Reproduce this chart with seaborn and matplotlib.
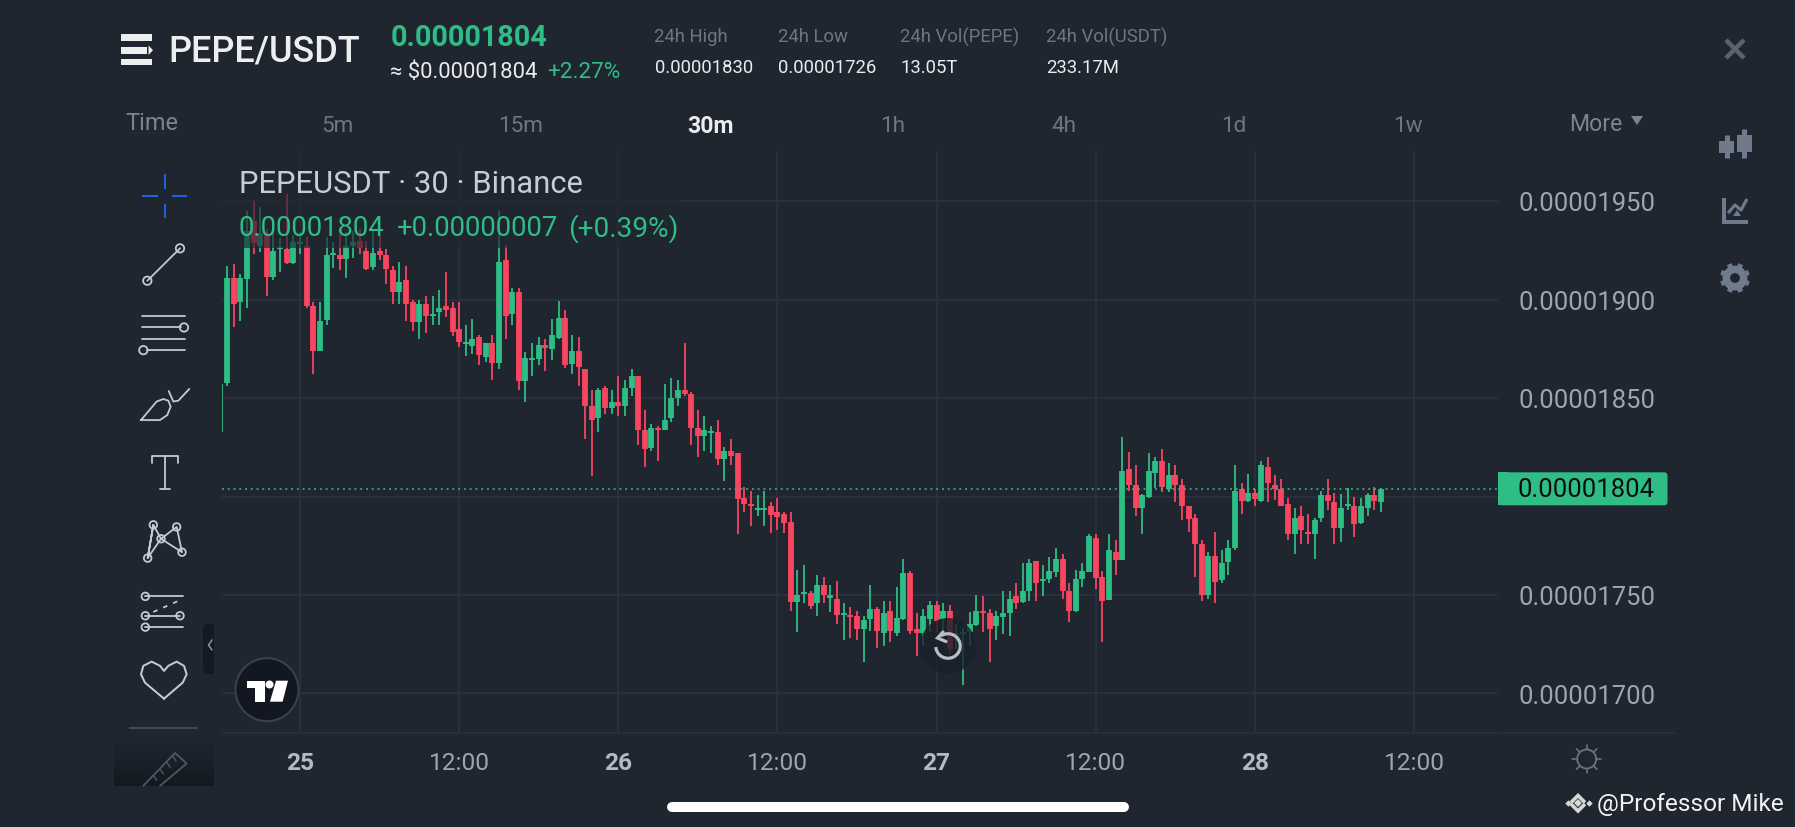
import numpy as np
import pandas as pd
import matplotlib
matplotlib.use("Agg")
import matplotlib.pyplot as plt
from matplotlib.colors import LinearSegmentedColormap
from matplotlib.patches import Arc, Circle, FancyBboxPatch, Polygon, Rectangle
import seaborn as sns

# prices in units of 0.00000001, one candle per 30 minutes
# first candle is 12 bars before the "25" tick
opens = [1832.6, 1857.6, 1910.7, 1898.7, 1910.4, 1940.0, 1927.3, 1932.7, 1911.4, 1925.6, 1925.6, 1918.5,
         1928.7, 1927.3, 1896.5, 1873.9, 1889.6, 1922.8, 1922.6, 1920.6, 1927.3, 1929.9, 1924.8, 1916.5,
         1924.8, 1922.6, 1915.1, 1903.6, 1909.7, 1898.9, 1888.8, 1897.7, 1891.8, 1893.7, 1896.7, 1895.7,
         1884.9, 1877.6, 1876.6, 1880.8, 1870.8, 1877.8, 1867.6, 1919.9, 1892.7, 1904.0, 1858.8, 1869.8,
         1869.8, 1876.9, 1874.9, 1880.5, 1890.8, 1867.4, 1873.9, 1864.7, 1845.8, 1840.0, 1855.1, 1844.8,
         1847.8, 1845.8, 1855.1, 1861.0, 1833.9, 1824.8, 1834.8, 1833.9, 1840.0, 1849.8, 1854.1, 1851.9,
         1834.8, 1830.9, 1832.6, 1832.9, 1818.9, 1822.9, 1821.9, 1799.1, 1796.0, 1793.7, 1793.7, 1795.2,
         1792.0, 1790.9, 1786.9, 1746.6, 1751.0, 1751.0, 1745.8, 1755.1, 1749.0, 1748.0, 1740.0, 1740.0,
         1739.2, 1732.8, 1737.8, 1742.9, 1730.9, 1741.9, 1730.7, 1737.8, 1761.0, 1732.8, 1730.9, 1737.8,
         1744.9, 1737.8, 1742.1, 1729.7, 1730.1, 1731.1, 1734.8, 1741.9, 1741.1, 1734.1, 1739.0, 1741.1,
         1749.3, 1746.6, 1752.0, 1767.1, 1757.1, 1758.0, 1761.9, 1768.3, 1752.0, 1742.1, 1758.0, 1761.9,
         1779.1, 1759.0, 1747.6, 1772.0, 1767.9, 1813.9, 1805.8, 1794.0, 1799.5, 1811.9, 1818.0, 1803.6,
         1811.0, 1805.8, 1795.0, 1788.9, 1775.8, 1750.0, 1769.9, 1757.6, 1766.9, 1773.7, 1803.8, 1797.7,
         1801.7, 1797.7, 1814.9, 1805.8, 1803.8, 1796.2, 1780.9, 1789.9, 1781.8, 1780.9, 1788.9, 1800.9,
         1797.0, 1784.0, 1795.0, 1795.0, 1786.8, 1794.0, 1800.9, 1797.0]
highs = [1857.1, 1917.2, 1918.0, 1912.8, 1944.9, 1949.8, 1946.8, 1935.8, 1934.9, 1931.1, 1953.6, 1932.7,
         1934.1, 1931.9, 1898.9, 1898.9, 1931.9, 1929.0, 1932.7, 1934.1, 1934.6, 1935.8, 1929.9, 1934.9,
         1932.7, 1925.6, 1916.8, 1918.9, 1916.8, 1899.9, 1899.9, 1902.0, 1902.0, 1904.8, 1913.8, 1898.9,
         1898.9, 1887.1, 1889.9, 1881.8, 1877.8, 1881.8, 1944.9, 1927.5, 1905.9, 1905.9, 1873.2, 1877.9,
         1880.8, 1879.9, 1890.1, 1899.1, 1894.9, 1881.8, 1880.8, 1864.7, 1854.1, 1855.1, 1856.1, 1854.1,
         1861.0, 1859.1, 1864.7, 1861.0, 1843.9, 1836.8, 1835.8, 1857.1, 1860.0, 1859.1, 1877.9, 1852.9,
         1843.9, 1841.0, 1835.8, 1839.0, 1825.0, 1829.0, 1821.9, 1805.0, 1803.0, 1800.9, 1803.0, 1797.2,
         1799.1, 1792.0, 1792.0, 1762.9, 1765.2, 1752.0, 1760.0, 1759.0, 1755.1, 1757.1, 1746.0, 1743.9,
         1742.1, 1739.2, 1755.1, 1743.9, 1747.0, 1747.0, 1754.1, 1768.3, 1762.0, 1741.1, 1743.1, 1747.0,
         1747.0, 1746.0, 1744.9, 1735.3, 1733.1, 1741.2, 1750.2, 1749.3, 1742.9, 1742.1, 1752.2, 1752.2,
         1756.1, 1766.3, 1768.1, 1767.1, 1765.2, 1769.1, 1774.0, 1771.0, 1756.1, 1762.9, 1766.3, 1781.2,
         1781.2, 1762.0, 1781.1, 1777.9, 1830.0, 1822.7, 1816.0, 1801.1, 1821.9, 1819.8, 1824.1, 1816.8,
         1816.0, 1809.0, 1795.0, 1790.9, 1777.9, 1772.0, 1782.1, 1773.0, 1777.9, 1816.0, 1806.8, 1811.2,
         1803.8, 1818.0, 1819.8, 1811.0, 1809.0, 1799.0, 1794.1, 1795.0, 1790.9, 1788.9, 1802.8, 1809.0,
         1801.7, 1801.1, 1804.1, 1799.9, 1799.0, 1801.9, 1804.8, 1804.1]
lows = [1832.6, 1856.3, 1886.2, 1889.1, 1895.9, 1922.9, 1923.9, 1902.0, 1910.1, 1914.1, 1918.0, 1918.0,
        1922.9, 1895.9, 1862.0, 1873.7, 1887.2, 1916.0, 1915.1, 1910.9, 1920.9, 1922.9, 1915.1, 1915.1,
        1920.1, 1907.9, 1897.7, 1897.7, 1889.1, 1884.2, 1880.0, 1882.8, 1887.1, 1887.1, 1891.0, 1881.6,
        1876.1, 1871.2, 1872.2, 1866.9, 1868.1, 1859.1, 1864.9, 1880.0, 1887.1, 1854.1, 1848.1, 1861.0,
        1866.8, 1863.9, 1869.3, 1880.0, 1865.0, 1862.0, 1856.3, 1829.2, 1810.2, 1832.9, 1842.0, 1842.0,
        1841.0, 1841.0, 1850.8, 1826.1, 1815.1, 1822.9, 1818.0, 1833.9, 1838.0, 1846.1, 1850.8, 1826.1,
        1820.1, 1822.9, 1821.9, 1816.2, 1808.0, 1816.2, 1781.1, 1792.0, 1785.2, 1790.1, 1785.2, 1781.3,
        1783.2, 1781.3, 1742.1, 1731.1, 1746.0, 1742.9, 1739.2, 1746.0, 1741.2, 1735.3, 1727.2, 1728.0,
        1727.0, 1716.2, 1731.9, 1723.3, 1724.3, 1726.2, 1729.2, 1737.5, 1730.1, 1719.2, 1724.3, 1731.1,
        1731.1, 1729.4, 1720.1, 1722.6, 1704.3, 1724.3, 1734.5, 1731.1, 1716.2, 1727.2, 1730.2, 1729.2,
        1743.1, 1746.0, 1747.0, 1747.0, 1749.3, 1756.1, 1759.0, 1748.0, 1736.1, 1741.2, 1754.1, 1761.5,
        1753.1, 1726.2, 1747.6, 1760.1, 1767.9, 1802.9, 1790.2, 1781.1, 1799.4, 1804.1, 1802.1, 1802.1,
        1797.3, 1788.2, 1782.1, 1759.1, 1747.1, 1747.9, 1746.1, 1756.2, 1760.1, 1773.0, 1790.9, 1797.3,
        1795.3, 1797.0, 1797.3, 1798.0, 1795.0, 1777.9, 1770.9, 1776.0, 1776.0, 1768.1, 1787.2, 1792.9,
        1776.0, 1776.9, 1792.9, 1779.2, 1786.2, 1790.1, 1792.9, 1791.9]
closes = [1857.1, 1910.7, 1897.6, 1910.7, 1934.9, 1928.7, 1933.8, 1911.6, 1924.8, 1926.5, 1918.5, 1929.0,
          1929.0, 1896.5, 1873.9, 1888.9, 1922.8, 1923.6, 1920.6, 1927.3, 1929.0, 1926.0, 1915.5, 1923.8,
          1922.6, 1915.7, 1903.6, 1908.7, 1897.6, 1888.8, 1897.7, 1891.8, 1892.6, 1895.7, 1894.7, 1883.7,
          1878.6, 1878.1, 1879.8, 1871.8, 1877.8, 1867.6, 1918.9, 1891.8, 1904.0, 1858.8, 1870.1, 1870.1,
          1876.9, 1875.5, 1881.8, 1890.8, 1866.8, 1873.9, 1865.6, 1845.8, 1839.0, 1854.1, 1844.8, 1847.8,
          1845.8, 1855.1, 1861.0, 1833.9, 1824.1, 1834.8, 1833.9, 1839.0, 1850.0, 1854.1, 1851.9, 1834.8,
          1830.9, 1833.8, 1832.9, 1818.9, 1822.9, 1820.7, 1798.7, 1796.0, 1795.0, 1794.0, 1794.0, 1790.8,
          1789.8, 1786.7, 1746.6, 1750.0, 1751.4, 1744.6, 1755.1, 1750.2, 1749.5, 1740.0, 1741.1, 1739.0,
          1732.8, 1737.2, 1742.9, 1731.7, 1741.1, 1731.7, 1738.2, 1761.0, 1731.7, 1730.9, 1739.2, 1744.9,
          1737.0, 1742.1, 1722.6, 1730.7, 1731.1, 1735.1, 1742.1, 1740.9, 1732.8, 1739.2, 1741.1, 1748.0,
          1745.8, 1752.2, 1766.3, 1755.9, 1758.0, 1762.0, 1768.3, 1752.2, 1742.1, 1758.0, 1762.0, 1780.1,
          1758.8, 1746.8, 1773.0, 1767.9, 1812.9, 1805.8, 1794.0, 1800.9, 1812.9, 1818.0, 1804.6, 1811.0,
          1805.8, 1795.0, 1788.5, 1775.7, 1750.0, 1769.9, 1756.7, 1766.0, 1773.8, 1802.9, 1797.7, 1801.7,
          1798.7, 1816.0, 1806.8, 1803.8, 1795.0, 1780.9, 1788.9, 1783.0, 1781.1, 1787.9, 1800.9, 1797.8,
          1784.0, 1794.1, 1796.0, 1785.8, 1795.0, 1800.9, 1797.8, 1803.8]
first_bar = -12
last_price = 1804

price_ticks = [1700, 1750, 1800, 1850, 1900, 1950]
price_labels = ["0.00001700", "0.00001750", "", "0.00001850", "0.00001900", "0.00001950"]
time_ticks = [0, 24, 48, 72, 96, 120, 144, 168]
time_labels = ["25", "12:00", "26", "12:00", "27", "12:00", "28", "12:00"]

BG = "#1f2630"
GRID = "#2b323d"
UP = "#2ebd85"
DOWN = "#fa4560"
GRAY = "#7b8591"
W, H = 1795, 828


def pt(px):
    return px * 0.72


sns.set_style("dark", {"axes.facecolor": BG, "figure.facecolor": BG})
plt.rcParams["font.family"] = ["Roboto", "DejaVu Sans"]

df = pd.DataFrame({"open": opens, "high": highs, "low": lows, "close": closes})
df["bar"] = np.arange(first_bar, first_bar + len(df))
df["side"] = np.where(df["close"] >= df["open"], "up", "down")
df["top"] = df[["open", "close"]].max(axis=1)
df["bot"] = df[["open", "close"]].min(axis=1)
thin = df["top"] - df["bot"] < 0.7
df.loc[thin, "top"] += 0.35
df.loc[thin, "bot"] -= 0.35

wicks = df.melt(id_vars=["bar", "side"], value_vars=["low", "high"], value_name="price")
bodies = df.melt(id_vars=["bar", "side"], value_vars=["bot", "top"], value_name="price")
colors = {"up": UP, "down": DOWN}

fig = plt.figure(figsize=(W / 100, H / 100), dpi=100, facecolor=BG)
ax = fig.add_axes([222 / W, 1 - 734.3 / H, (1498.3 - 222) / W, (734.3 - 152) / H], zorder=1)

sns.lineplot(data=wicks, x="bar", y="price", units="bar", hue="side", palette=colors, estimator=None,
             sort=False, lw=pt(1.8), solid_capstyle="butt", legend=False, ax=ax)
sns.lineplot(data=bodies, x="bar", y="price", units="bar", hue="side", palette=colors, estimator=None,
             sort=False, lw=pt(5.8), solid_capstyle="butt", legend=False, ax=ax)
ax.axhline(last_price, color=UP, lw=pt(1.6), ls=(0, (1.2, 2.4)), zorder=4)

ax.set_xlim((222 - 300) / 6.631, (1498.3 - 300) / 6.631)
ax.set_ylim(1950 - (734.3 - 202) / 1.97, 1950 - (152 - 202) / 1.97)
ax.set_xlabel("")
ax.set_ylabel("")
ax.yaxis.tick_right()
ax.set_yticks(price_ticks)
ax.set_yticklabels(price_labels)
ax.set_xticks(time_ticks)
ax.set_xticklabels(time_labels)
ax.tick_params(axis="y", length=0, pad=pt(20), labelsize=pt(25.6), labelcolor="#9ea4b0")
ax.tick_params(axis="x", length=0, pad=pt(18), labelsize=pt(24.5), labelcolor="#9ea4b0")
for lab, txt in zip(ax.get_xticklabels(), time_labels):
    if txt != "12:00":
        lab.set_fontweight("bold")
        lab.set_color("#b5b9c4")
ax.grid(True, color=GRID, lw=pt(1.7))
ax.set_axisbelow(True)
sns.despine(ax=ax, left=True, bottom=True, top=True, right=True)

# everything around the chart is drawn in pixel coordinates on a second axes
ov = fig.add_axes([0, 0, 1, 1], zorder=5, facecolor="none")
ov.axis("off")


def label(x, y, s, size, color, ha="left", weight="normal"):
    ov.text(x, y + 1.5, s, fontsize=pt(size), color=color, ha=ha, va="center", fontweight=weight)


def stroke(xs, ys, color, lw=2.0, **kw):
    kw.setdefault("solid_capstyle", "round")
    ov.plot(xs, ys, color=color, lw=pt(lw), **kw)


def ring(x, y, r, color, lw=2.0, fill="none"):
    ov.add_patch(Circle((x, y), r, facecolor=fill, edgecolor=color, lw=pt(lw)))


# dim box behind the legend and halo behind the reset button
ov.add_patch(Rectangle((222, 152), 458, 96.5, facecolor=BG, edgecolor="none", alpha=0.66))
ov.add_patch(Circle((948, 647), 28, facecolor="#1b2029", edgecolor="none", alpha=0.8))

label(239, 183, "PEPEUSDT · 30 · Binance", 31, "#c8ccd4")
label(238, 227, "0.00001804", 27.5, UP)
label(396.5, 227, "+0.00000007", 27.5, UP)
label(568, 227, "(+0.39%)", 28, UP)

# axis line
stroke([221.5, 1497.5], [734.3, 734.3], GRID, 1.6, solid_capstyle="butt")
stroke([1500, 1675], [734.3, 734.3], GRID, 1.6, solid_capstyle="butt")

# last price tag
ov.add_patch(FancyBboxPatch((1498, 473.3), 169.5, 33, boxstyle="round,pad=0,rounding_size=3.5", facecolor=UP, edgecolor="none"))
ov.add_patch(Rectangle((1498, 473.3), 10, 33, facecolor=UP, edgecolor="none"))
label(1586, 489, "0.00001804", 25.6, "#0b0e11", ha="center")

# header
for y0, y1, x1 in [(35, 41.5, 152), (47.7, 54.5, 147), (60, 65.7, 152)]:
    ov.add_patch(Rectangle((121.4, y0), x1 - 121.4, y1 - y0, facecolor="#eceef0", edgecolor="none"))
ov.add_patch(Polygon([(148.5, 46.5), (153, 51.2), (148.5, 56)], facecolor="#eceef0", edgecolor="none"))
label(168, 51, "PEPE/USDT", 36, "#eceef0", weight="medium")
label(390.5, 36, "0.00001804", 28.7, UP, weight="bold")
label(390.5, 71.5, "≈ $0.00001804", 22, "#eaecef")
label(547, 71.5, "+2.27%", 22.5, UP)
stats = [(654.5, "24h High", "0.00001830"), (777.8, "24h Low", "0.00001726"),
         (900, "24h Vol(PEPE)", "13.05T"), (1045.7, "24h Vol(USDT)", "233.17M")]
for x0, head, val in stats:
    label(x0, 36, head, 18.5, "#6c7683")
    label(x0, 66.7, val, 18.5, "#eaecef")

label(125, 122, "Time", 23.5, GRAY)
for x0, s in [(337, "5m"), (521, "15m"), (893, "1h"), (1064, "4h"), (1234, "1d"), (1408, "1w")]:
    label(x0, 125, s, 22.5, "#6c7683", ha="center")
label(710.7, 125, "30m", 23, "#eaecef", ha="center", weight="bold")
label(1569, 122.7, "More", 23, GRAY)
ov.add_patch(Polygon([(1631, 117), (1643, 117), (1637, 126)], facecolor=GRAY, edgecolor="none"))

# right icons
ICON = "#6f7b8b"
stroke([1726, 1744], [41, 59], "#59636f", 4.5, solid_capstyle="butt")
stroke([1726, 1744], [59, 41], "#59636f", 4.5, solid_capstyle="butt")
stroke([1726.7, 1726.7], [136, 159], ICON, 5, solid_capstyle="butt")
stroke([1744, 1744], [130, 159], ICON, 5, solid_capstyle="butt")
ov.add_patch(Rectangle((1719, 141.7), 15, 12.3, facecolor=ICON, edgecolor="none"))
ov.add_patch(Rectangle((1736.7, 136), 15, 17, facecolor=ICON, edgecolor="none"))
stroke([1724, 1724, 1748], [199, 223, 223], ICON, 4, solid_capstyle="butt", solid_joinstyle="miter")
stroke([1728, 1735, 1741, 1747], [214, 206, 211, 200], ICON, 3.2, solid_capstyle="butt")
ov.add_patch(Polygon([(1733, 217), (1741, 217), (1737, 211)], facecolor=ICON, edgecolor="none"))
ring(1735, 279, 8.7, ICON, 7.5)
for a in np.arange(8) * np.pi / 4 + np.pi / 8:
    stroke([1735 + 10 * np.cos(a), 1735 + 15 * np.cos(a)], [279 + 10 * np.sin(a), 279 + 15 * np.sin(a)], ICON, 5, solid_capstyle="butt")

# sun icon
SUN = "#6a7480"
ring(1586.7, 760, 9.5, SUN, 1.8)
for a in np.arange(8) * np.pi / 4:
    stroke([1586.7 + 10 * np.cos(a), 1586.7 + 14.5 * np.cos(a)], [760 + 10 * np.sin(a), 760 + 14.5 * np.sin(a)], SUN, 1.6)

# left toolbar, z values are positions in a 3 x 2.376 crop
TOOL = "#c5c9d0"


def tx(z):
    return 110 + np.asarray(z) / 3


def ty(z):
    return 150 + np.asarray(z) / 2.376


def tool_line(xz, yz, **kw):
    stroke(tx(xz), ty(yz), kw.pop("color", TOOL), kw.pop("lw", 1.8), **kw)


def tool_dot(xz, yz, r=4.2):
    ring(tx(xz), ty(yz), r, TOOL, 1.8, fill=BG)


BLUE = "#1f62e0"
tool_line([97, 145], [112, 112], color=BLUE, lw=2, solid_capstyle="butt")
tool_line([185, 232], [112, 112], color=BLUE, lw=2, solid_capstyle="butt")
tool_line([164, 164], [60, 95], color=BLUE, lw=2, solid_capstyle="butt")
tool_line([164, 164], [130, 165], color=BLUE, lw=2, solid_capstyle="butt")
tool_line([112, 210], [313, 236])
tool_dot(112, 313)
tool_dot(210, 236)
tool_line([97, 225], [396, 396])
tool_line([97, 212], [424, 424])
tool_dot(222, 424)
tool_line([97, 225], [451, 451])
tool_line([112, 225], [478, 478])
tool_dot(100, 478)
tool_line([93, 150, 172, 182, 175, 160, 140, 93], [644, 644, 632, 612, 598, 594, 600, 644])
tool_line([176, 190, 205, 238], [575, 600, 598, 570])
tool_line([127, 127, 203, 203], [745, 730, 730, 745])
tool_line([165, 165], [730, 808])
tool_line([150, 180], [808, 808])
tool_line([113, 130, 153, 200, 216, 153, 113, 130], [972, 893, 926, 898, 958, 926, 972, 893])
for xz, yz in [(130, 893), (200, 898), (153, 926), (113, 972), (216, 958)]:
    tool_dot(xz, yz, 3.8)
tool_line([106, 218], [1063, 1063])
tool_line([130, 210], [1100, 1072], ls=(0, (2.5, 3.5)))
tool_line([106, 210], [1109, 1109])
tool_line([106, 218], [1136, 1136])
for xz, yz in [(106, 1063), (106, 1109), (210, 1109), (106, 1136)]:
    tool_dot(xz, yz, 3.8)
tool_line([162, 105, 93, 100, 125, 150, 162, 175, 200, 222, 230, 218, 162],
          [1306, 1268, 1248, 1228, 1218, 1228, 1240, 1228, 1218, 1228, 1248, 1268, 1306], lw=2)
tool_line([58, 265], [1375, 1375], color="#4a525d", lw=1.6, solid_capstyle="butt")

# ruler panel with a dark gradient
fade = LinearSegmentedColormap.from_list("fade", [BG, "#141920"])
ov.imshow(np.linspace(0, 1, 32).reshape(-1, 1), extent=(114, 214, 787, 741), aspect="auto", cmap=fade, zorder=0)
tool_line([100, 195, 230, 150], [1513, 1435, 1460, 1513], color="#4f5864")
for a, b in [(130, 1488), (150, 1473), (170, 1457), (188, 1442)]:
    tool_line([a, a + 10], [b, b + 12], color="#4f5864", lw=1.4)

# collapse tab
ov.add_patch(FancyBboxPatch((203, 625), 14, 50, boxstyle="round,pad=0,rounding_size=5", facecolor="#151a22", edgecolor="none"))
ov.add_patch(Rectangle((214, 622), 8, 56, facecolor=BG, edgecolor="none"))
stroke([212, 208.5, 212], [641, 646, 651], "#8b929d", 1.6)

# tradingview badge
ring(267, 690.7, 31.5, "#3a424e", 2, fill="#131722")
ov.add_patch(Polygon([(247, 681.7), (265, 681.7), (265, 702.7), (254.5, 702.7), (254.5, 689), (247, 689)], facecolor="white", edgecolor="none"))
ov.add_patch(Circle((269.5, 685.5), 4, facecolor="white", edgecolor="none"))
ov.add_patch(Polygon([(276, 681.7), (288, 681.7), (282.6, 702.7), (270, 702.7)], facecolor="white", edgecolor="none"))

# reset button
ov.add_patch(Arc((948, 647), 24.5, 24.5, theta1=-125, theta2=175, color="#b9bdc6", lw=pt(3.2)))
stroke([943, 937.5, 946], [633, 639, 642.5], "#b9bdc6", 3.2, solid_joinstyle="miter")

# home bar and watermark
stroke([671.5, 1124], [807.7, 807.7], "white", 10)
WM = "#d8d8d8"
for x0, y0, dy in [(1578, 797.5, 1), (1578, 811, -1)]:
    stroke([x0 - 7, x0, x0 + 7], [y0 + 6 * dy, y0 - 1 * dy, y0 + 6 * dy], WM, 3.6, solid_capstyle="butt", solid_joinstyle="miter")
for x0, ms in [(1567.5, 4.5), (1588.5, 4.5), (1578, 6)]:
    ov.plot([x0], [804], marker="D", ms=pt(ms), color=WM, mew=0)
label(1596.7, 803, "@Professor Mike", 24.4, "#f2f2f2")

ov.set_xlim(0, W)
ov.set_ylim(H, 0)

fig.savefig("out.png", dpi=100, facecolor=BG)
